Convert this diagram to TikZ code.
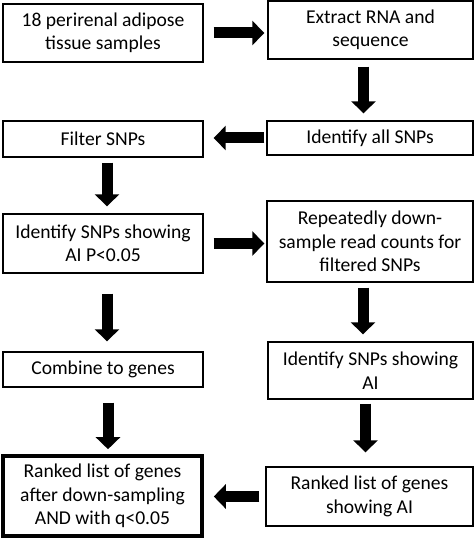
\documentclass[tikz,border=0pt]{standalone}
\usepackage{fontspec}
\setmainfont{Carlito}
\usetikzlibrary{arrows.meta}

\begin{document}
\begin{tikzpicture}[x=1pt, y=1pt,
    stage/.style={draw, line width=1.4pt, inner sep=0pt, align=center,
        font=\fontsize{19.6}{23.5}\selectfont},
    final/.style={stage, line width=3.6pt},
    fat/.style={line width=11pt, -{Triangle[width=24pt, length=12pt]}}]
    % Fix the page size
    \useasboundingbox (0, 0) rectangle (474, -540);

    % Draw the left column
    \node[stage, minimum width=200pt, minimum height=58pt] (samples) at (103, -33) {18 perirenal adipose\\tissue samples};
    \node[stage, minimum width=200pt, minimum height=36pt] (filter) at (103, -139) {Filter SNPs};
    \node[stage, minimum width=200pt, minimum height=59pt] (showing) at (103, -243.5) {Identify SNPs showing\\AI P<0.05};
    \node[stage, minimum width=200pt, minimum height=35pt] (combine) at (103, -369.5) {Combine to genes};
    \node[final, minimum width=199pt, minimum height=80pt] (ranked) at (102.5, -496) {Ranked list of genes\\after down-sampling\\AND with q<0.05};

    % Draw the right column
    \node[stage, minimum width=205pt, minimum height=58pt] (extract) at (370.5, -30) {Extract RNA and\\sequence};
    \node[stage, minimum width=206pt, minimum height=34pt] (allsnps) at (370, -138) {Identify all SNPs};
    \node[stage, minimum width=206pt, minimum height=81pt] (resample) at (370, -241.5) {Repeatedly down-\\sample read counts for\\filtered SNPs};
    \node[stage, minimum width=205pt, minimum height=57pt] (aisnps) at (370.5, -370.5) {Identify SNPs showing\\AI};
    \node[stage, minimum width=207pt, minimum height=59pt] (genelist) at (369.5, -496.5) {Ranked list of genes\\showing AI};

    % Draw the block arrows
    \draw[fat, shorten <=10pt, shorten >=3pt] (samples.east) -- (samples.east -| extract.west);
    \draw[fat, shorten <=7pt, shorten >=7pt] ([xshift=-7pt]extract.south) -- ([xshift=-7pt]extract.south |- allsnps.north);
    \draw[fat, shorten <=2pt, shorten >=10pt] (allsnps.west) -- (allsnps.west -| filter.east);
    \draw[fat, shorten <=5pt, shorten >=7pt] ([xshift=4pt]filter.south) -- ([xshift=4pt]filter.south |- showing.north);
    \draw[fat, shorten <=10pt, shorten >=2pt] (showing.east) -- (showing.east -| resample.west);
    \draw[fat, shorten <=20pt, shorten >=10pt] ([xshift=4pt]showing.south) -- ([xshift=4pt]showing.south |- combine.north);
    \draw[fat, shorten <=5pt, shorten >=7pt] ([xshift=-7pt]resample.south) -- ([xshift=-7pt]resample.south |- aisnps.north);
    \draw[fat, shorten <=15pt, shorten >=5pt] ([xshift=5pt]combine.south) -- ([xshift=5pt]combine.south |- ranked.north);
    \draw[fat, shorten <=4pt, shorten >=14pt] ([xshift=-5pt]aisnps.south) -- ([xshift=-5pt]aisnps.south |- genelist.north);
    \draw[fat, shorten <=6pt, shorten >=10pt] (genelist.west) -- (genelist.west -| ranked.east);
\end{tikzpicture}
\end{document}
